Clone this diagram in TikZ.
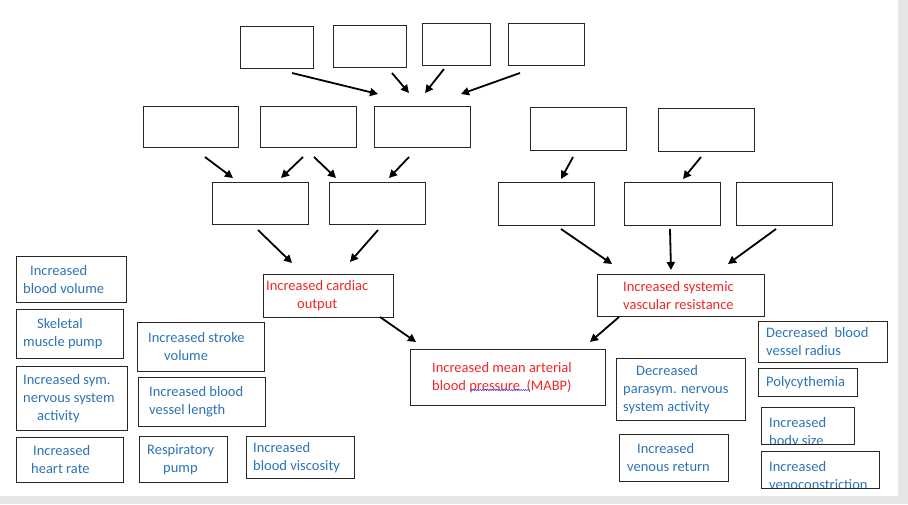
\documentclass[tikz,border=0pt]{standalone}
\usepackage{fontspec}
\setmainfont{Carlito}
\usetikzlibrary{arrows.meta,decorations.pathmorphing}
\definecolor{txtblue}{HTML}{2E74B5}
\definecolor{txtred}{HTML}{F02828}
\definecolor{edgegray}{HTML}{E6E6E6}
\definecolor{squigblue}{HTML}{4A4AE8}
\begin{document}
\begin{tikzpicture}[x=1pt,y=-1pt,
  box/.style={draw=black!85, line width=0.75pt, anchor=north west, inner sep=0pt},
  btxt/.style={anchor=west, align=left, inner sep=0pt, text=txtblue, font=\fontsize{14.5}{18}\selectfont},
  rtxt/.style={btxt, text=txtred},
  arr/.style={line width=1.8pt, -{Triangle[length=8pt,width=8pt]}},
  squig/.style={draw=squigblue, line width=0.6pt, decorate, decoration={snake, amplitude=0.6pt, segment length=2.4pt}}]
\useasboundingbox (0,0) rectangle (908,504);
\fill[white] (0,0) rectangle (908,504);
\fill[edgegray] (898,0) rectangle (908,504);
\fill[edgegray] (0,496) rectangle (908,504);

% top row (empty)
\node[box, minimum width=73pt, minimum height=42pt] (T1) at (240,26) {};
\node[box, minimum width=73pt, minimum height=42pt] (T2) at (333,25) {};
\node[box, minimum width=68pt, minimum height=42pt] (T3) at (422,23) {};
\node[box, minimum width=76pt, minimum height=42pt] (T4) at (508,23) {};
% second row
\node[box, minimum width=95pt, minimum height=41pt] (M1) at (143,106) {};
\node[box, minimum width=96pt, minimum height=41pt] (M2) at (260,106) {};
\node[box, minimum width=96pt, minimum height=41pt] (M3) at (374,106) {};
\node[box, minimum width=96pt, minimum height=43pt] (M4) at (530,107) {};
\node[box, minimum width=96pt, minimum height=43pt] (M5) at (658,108) {};
% third row
\node[box, minimum width=96pt, minimum height=42pt] (L1) at (212,182) {};
\node[box, minimum width=96pt, minimum height=42pt] (L2) at (329,182) {};
\node[box, minimum width=96pt, minimum height=43pt] (R1) at (498,182) {};
\node[box, minimum width=96pt, minimum height=43pt] (R2) at (624,182) {};
\node[box, minimum width=96pt, minimum height=43pt] (R3) at (736,182) {};

% red boxes
\node[box, minimum width=130pt, minimum height=43pt] (CO) at (263,274) {};
\node[rtxt, align=center] (COt) at ([xshift=3pt]CO.west) {Increased cardiac\\output};
\node[box, minimum width=167pt, minimum height=42pt] (SVR) at (597,274) {};
\node[rtxt] (SVRt) at ([xshift=26pt]SVR.west) {Increased systemic\\vascular resistance};
\node[box, minimum width=195pt, minimum height=56pt] (MABP) at (410,349) {};
\node[rtxt] (MABPt) at ([xshift=22pt]MABP.west) {Increased mean arterial\\blood pressure\ \ (MABP)};
\path[squig] (470,390) -- (530,390);

% left blue boxes
\node[box, minimum width=110pt, minimum height=46pt] (B1) at (16,256) {};
\node[btxt] (B1t) at ([xshift=7pt]B1.west) {\hspace*{7pt}Increased\\blood volume};
\node[box, minimum width=107pt, minimum height=49pt] (B2) at (16,309) {};
\node[btxt] (B2t) at ([xshift=7pt]B2.west) {\hspace*{14pt}Skeletal\\muscle pump};
\node[box, minimum width=111pt, minimum height=64pt] (B3) at (16,366) {};
\node[btxt] (B3t) at ([xshift=7pt]B3.west) {Increased sym.\\nervous system\\\hspace*{14pt}activity};
\node[box, minimum width=107pt, minimum height=45pt] (B4) at (16,437) {};
\node[btxt] (B4t) at ([xshift=15pt]B4.west) {\hspace*{2pt}Increased\\heart rate};
\node[box, minimum width=127pt, minimum height=49pt] (B5) at (137,322) {};
\node[btxt] (B5t) at ([xshift=11pt]B5.west) {Increased stroke\\\hspace*{16pt}volume};
\node[box, minimum width=127pt, minimum height=49pt] (B6) at (138,377) {};
\node[btxt] (B6t) at ([xshift=11pt]B6.west) {Increased blood\\vessel length};
\node[box, minimum width=88pt, minimum height=46pt] (B7) at (139,436) {};
\node[btxt] (B7t) at ([xshift=8pt]B7.west) {Respiratory\\\hspace*{16pt}pump};
\node[box, minimum width=108pt, minimum height=42pt] (B8) at (246,436) {};
\node[btxt] (B8t) at ([xshift=7pt]B8.west) {Increased\\blood viscosity};

% right blue boxes
\node[box, minimum width=129pt, minimum height=41pt] (C1) at (758,321) {};
\node[btxt] (C1t) at ([xshift=8pt]C1.west) {Decreased\ \ blood\\vessel radius};
\node[box, minimum width=99pt, minimum height=28pt] (C2) at (758,368) {};
\node[btxt] (C2t) at ([xshift=8pt]C2.west) {Polycythemia};
\node[box, minimum width=129pt, minimum height=62pt] (C3) at (616,358) {};
\node[btxt] (C3t) at ([xshift=7pt]C3.west) {\hspace*{13pt}Decreased\\parasym. nervous\\system activity};
\begin{scope}
\clip (761,407) rectangle (854,444);
\node[btxt] (C4t) at (769,432.5) {Increased\\body size};
\end{scope}
\node[box, minimum width=93pt, minimum height=37pt] (C4) at (761,407) {};
\node[box, minimum width=109pt, minimum height=47pt] (C5) at (619,434) {};
\node[btxt] (C5t) at ([xshift=8pt]C5.west) {\hspace*{10pt}Increased\\venous return};
\begin{scope}
\clip (761,451) rectangle (879,488);
\node[btxt] (C6t) at (769,475.5) {Increased\\venoconstriction};
\end{scope}
\node[box, minimum width=118pt, minimum height=37pt] (C6) at (761,451) {};

% arrow end points
\coordinate (a1s) at (292,73);  \coordinate (a1e) at (378,94);
\coordinate (a2s) at (392,73);  \coordinate (a2e) at (409,93);
\coordinate (a3s) at (444,69);  \coordinate (a3e) at (425,93);
\coordinate (a4s) at (520,73);  \coordinate (a4e) at (461,94);
\coordinate (b1s) at (205,157); \coordinate (b1e) at (233,178);
\coordinate (b2s) at (303,157); \coordinate (b2e) at (281,178);
\coordinate (b3s) at (314,157); \coordinate (b3e) at (336,178);
\coordinate (b4s) at (409,157); \coordinate (b4e) at (389,178);
\coordinate (b5s) at (573,157); \coordinate (b5e) at (561,179);
\coordinate (b6s) at (701,157); \coordinate (b6e) at (683,179);
\coordinate (c1s) at (258,230); \coordinate (c1e) at (292,263);
\coordinate (c2s) at (378,230); \coordinate (c2e) at (350,262);
\coordinate (c3s) at (561,229); \coordinate (c3e) at (612,264);
\coordinate (c4s) at (670,229); \coordinate (c4e) at (671,270);
\coordinate (c5s) at (776,229); \coordinate (c5e) at (728,264);
\coordinate (d1s) at (380,317); \coordinate (d1e) at (416,342);
\coordinate (d2s) at (619,317); \coordinate (d2e) at (590,342);

\foreach \a in {a1,a2,a3,a4,b1,b2,b3,b4,b5,b6,c1,c2,c3,c4,c5,d1,d2}
  \draw[arr] (\a s) -- (\a e);
\end{tikzpicture}
\end{document}
